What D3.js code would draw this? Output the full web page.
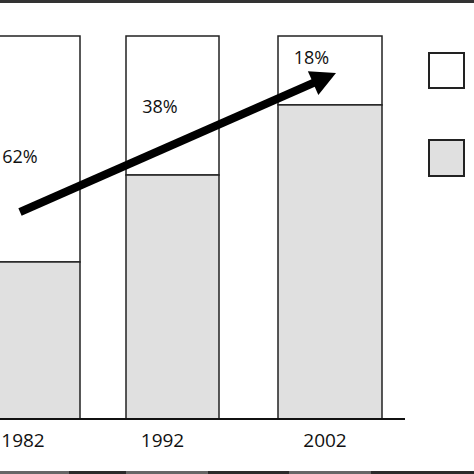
<!DOCTYPE html>
<html><head><meta charset="utf-8">
<script src="https://cdn.jsdelivr.net/npm/d3@7"></script>
<style>html,body{margin:0;padding:0;background:#fff;overflow:hidden}</style>
</head><body>
<script>
const years = ["1982", "1992", "2002"];
const lowerShare = [41, 63.7, 82];      // grey part (% of bar)
const upperLabels = ["62%", "38%", "18%"]; // white part labels
const total = 100;

const W = 474, H = 474;
const svg = d3.select("body").append("svg").attr("width", W).attr("height", H);
const font = "'Open Sans', 'Noto Sans', sans-serif";

const y = d3.scaleLinear().domain([0, total]).range([419, 36]);
const barLeft = d3.scaleOrdinal().domain(years).range([-13, 126, 278]);
const barW = d3.scaleOrdinal().domain(years).range([93, 93, 104]);
const labelX = d3.scaleOrdinal().domain(years).range([23, 162.5, 325]);
const pctX = d3.scaleOrdinal().domain(years).range([20, 160, 311.5]);
const pctY = d3.scaleOrdinal().domain(years).range([163, 113, 64]);

// top strip
svg.append("rect").attr("x", 0).attr("y", 0).attr("width", W).attr("height", 3).attr("fill", "#333");
// bottom strip
const strip = [[0, 69, "#666"], [69, 126, "#2b2b2b"], [126, 208, "#666"], [208, 289, "#2b2b2b"], [289, 371, "#666"], [371, 474, "#2b2b2b"]];
svg.selectAll("rect.strip").data(strip).join("rect").attr("class", "strip")
  .attr("x", d => d[0]).attr("y", 471).attr("width", d => d[1] - d[0]).attr("height", 3).attr("fill", d => d[2]);

const g = svg.append("g");
years.forEach((yr, i) => {
  // white upper part
  g.append("rect").attr("x", barLeft(yr)).attr("y", y(total)).attr("width", barW(yr))
    .attr("height", y(lowerShare[i]) - y(total)).attr("fill", "#fff").attr("stroke", "#222").attr("stroke-width", 1.5);
  // grey lower part
  g.append("rect").attr("x", barLeft(yr)).attr("y", y(lowerShare[i])).attr("width", barW(yr))
    .attr("height", y(0) - y(lowerShare[i])).attr("fill", "#e0e0e0").attr("stroke", "#222").attr("stroke-width", 1.5);
  g.append("text").attr("x", pctX(yr)).attr("y", pctY(yr)).attr("text-anchor", "middle")
    .attr("font-family", font).attr("font-size", 18).attr("fill", "#111").text(upperLabels[i]);
});

// baseline axis
svg.append("line").attr("x1", 0).attr("x2", 405).attr("y1", y(0)).attr("y2", y(0)).attr("stroke", "#111").attr("stroke-width", 1.8);
svg.selectAll("text.year").data(years).join("text").attr("class", "year")
  .attr("x", d => labelX(d)).attr("y", 447).attr("text-anchor", "middle")
  .attr("font-family", font).attr("font-size", 19).attr("fill", "#111").text(d => d);

// arrow
const tail = [20, 212], tip = [336, 73];
const dx = tip[0] - tail[0], dy = tip[1] - tail[1], L = Math.hypot(dx, dy);
const ux = dx / L, uy = dy / L, px = -uy, py = ux;
const headLen = 25, headHalf = 13;
const base = [tip[0] - ux * headLen, tip[1] - uy * headLen];
svg.append("line").attr("x1", tail[0]).attr("y1", tail[1]).attr("x2", base[0] + ux * 2).attr("y2", base[1] + uy * 2)
  .attr("stroke", "#000").attr("stroke-width", 8);
svg.append("path").attr("d", d3.line()([tip, [base[0] + px * headHalf, base[1] + py * headHalf], [base[0] - px * headHalf, base[1] - py * headHalf]]) + "Z")
  .attr("fill", "#000");

// legend boxes
svg.append("rect").attr("x", 429).attr("y", 53).attr("width", 35).attr("height", 35).attr("fill", "#fff").attr("stroke", "#222").attr("stroke-width", 2);
svg.append("rect").attr("x", 429).attr("y", 140).attr("width", 35).attr("height", 36).attr("fill", "#e0e0e0").attr("stroke", "#222").attr("stroke-width", 2);
</script>
</body></html>
